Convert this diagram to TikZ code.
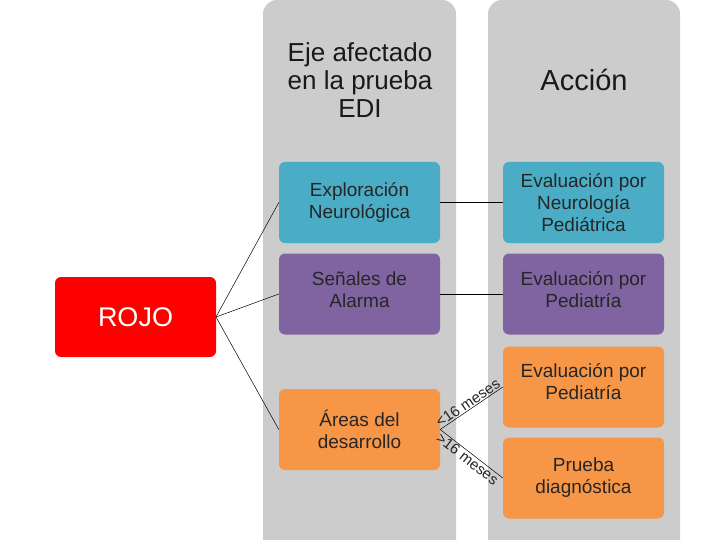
\documentclass[tikz,border=0pt]{standalone}
\usepackage{fontspec}
\setmainfont{Liberation Sans}
\begin{document}
\begin{tikzpicture}[x=1pt,y=-1pt,
  col/.style={fill=black!20,draw=none,rounded corners=14pt},
  bx/.style={rounded corners=6pt,minimum width=161pt,minimum height=81pt,align=center,font=\fontsize{19}{22}\selectfont,text=black!85,inner sep=2pt},
  teal/.style={bx,fill={rgb,255:red,75;green,172;blue,198}},
  purp/.style={bx,fill={rgb,255:red,128;green,100;blue,162}},
  oran/.style={bx,fill={rgb,255:red,247;green,150;blue,70}},
  ln/.style={draw=black,line width=0.5pt},
  lab/.style={font=\fontsize{15}{15}\selectfont,text=black!85,inner sep=1pt}]
\useasboundingbox (0,0) rectangle (720,540);
\fill[white] (0,0) rectangle (720,540);
\fill[col] (263,560) -- (263,0) -- (456,0) -- (456,560) -- cycle;
\fill[col] (488,560) -- (488,0) -- (680,0) -- (680,560) -- cycle;
\node[font=\fontsize{26}{28}\selectfont,align=center,text=black!90] (h1) at (360,80) {Eje afectado\\en la prueba\\EDI};
\node[font=\fontsize{29}{31}\selectfont,text=black!90] (h2) at (584,80) {Acción};
\node[bx,fill={rgb,255:red,255;green,0;blue,0},text=white,font=\fontsize{27}{29}\selectfont,minimum width=161pt,minimum height=80pt] (rojo) at (135.5,317) {ROJO};
\node[teal] (en) at (359.5,202.5) {Exploración\\Neurológica};
\node[purp,text depth=8pt] (sa) at (359.5,294) {Señales de\\Alarma};
\node[oran] (ad) at (359.5,429.5) {Áreas del\\desarrollo};
\node[teal] (enp) at (583.5,202.5) {Evaluación por\\Neurología\\Pediátrica};
\node[purp,text depth=8pt] (ep1) at (583.5,294) {Evaluación por\\Pediatría};
\node[oran,text depth=10pt] (ep2) at (583.5,387) {Evaluación por\\Pediatría};
\node[oran] (pd) at (583.5,478) {Prueba\\diagnóstica};
\coordinate (r) at (216,317);
\draw[ln] (r) -- (en.west);
\draw[ln] (r) -- (sa.west);
\draw[ln] (r) -- (ad.west);
\draw[ln] (en.east) -- (enp.west);
\draw[ln] (sa.east) -- (ep1.west);
\draw[ln] (ad.east) -- node[lab,sloped,above] {<16 meses} (ep2.west);
\draw[ln] (ad.east) -- node[lab,sloped,below] {>16 meses} (pd.west);
\end{tikzpicture}
\end{document}
